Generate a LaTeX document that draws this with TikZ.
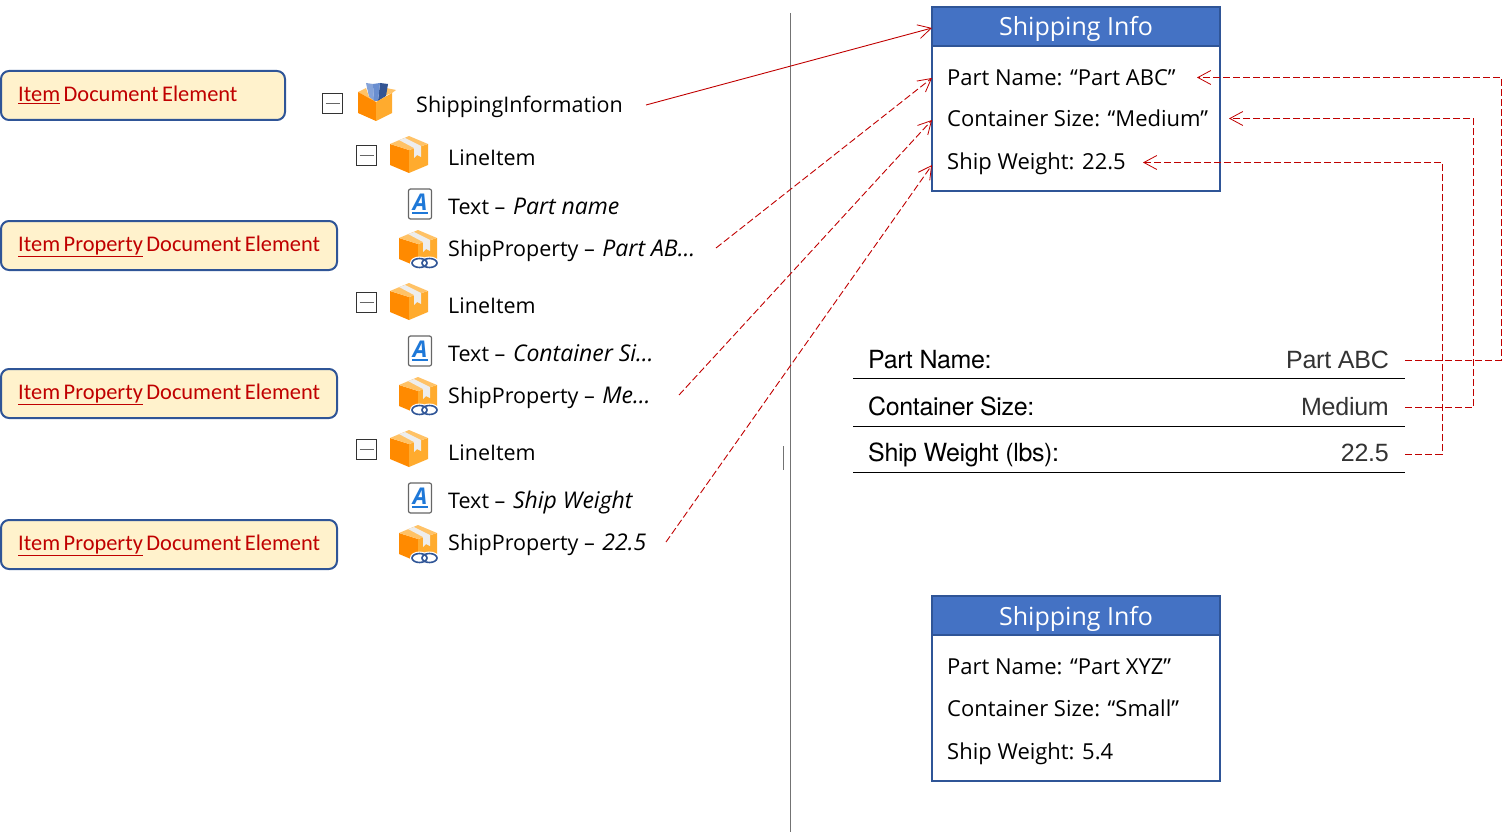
\documentclass[tikz,border=0pt]{standalone}
\usepackage{fontspec}
\setmainfont{Open Sans}
\newfontfamily\lblfont[WordSpace=0.7]{Carlito}
\newfontfamily\tblfont[LetterSpace=-1.5]{TeX Gyre Heros}
\newfontfamily\valfont[LetterSpace=-1]{Liberation Sans}
\usetikzlibrary{positioning,arrows.meta}
\definecolor{boxblue}{HTML}{4472C4}
\definecolor{edgeblue}{HTML}{2F5597}
\definecolor{linkred}{HTML}{C00000}
\definecolor{notefill}{HTML}{FFF2CC}
\definecolor{pkgdark}{HTML}{FF8A00}
\definecolor{pkglight}{HTML}{FFAB2E}
\definecolor{pkgtop}{HTML}{FFC266}
\definecolor{docblue}{HTML}{1E78D8}
\newcommand{\treeit}[1]{\hspace{2pt}{\fontsize{23}{24}\selectfont\itshape #1}}
\tikzset{
  note/.style={draw=edgeblue,line width=2pt,fill=notefill,rounded corners=8pt,minimum height=49pt,anchor=west,inner sep=0pt},
  notetext/.style={font=\lblfont\fontsize{22.4}{24}\selectfont,text=linkred,anchor=base west,inner sep=0pt},
  treetext/.style={font=\fontsize{21.5}{24}\selectfont,anchor=base west,inner sep=0pt},
  toggle/.style={draw=black!80,line width=.9pt,minimum size=20pt,inner sep=0pt},
  header/.style={draw=edgeblue,line width=2pt,fill=boxblue,text=white,minimum width=288pt,minimum height=39pt,inner sep=0pt,text height=22pt,text depth=3pt,font=\fontsize{25}{28}\selectfont},
  infobox/.style={draw=edgeblue,line width=2pt,minimum width=288pt,anchor=north west,inner sep=0pt},
  rowtext/.style={font=\fontsize{22}{24}\selectfont,anchor=base west,inner sep=0pt},
  tbltext/.style={font=\tblfont\fontsize{25}{28}\selectfont,anchor=base west,inner sep=0pt},
  tblval/.style={font=\valfont\fontsize{25}{28}\selectfont,text=black!80,anchor=base east,inner sep=0pt},
  link/.style={draw=linkred,line width=.9pt},
  dashlink/.style={link,dash pattern=on 7pt off 3pt},
  barb/.style={-{Straight Barb[length=13pt,width=14pt,line width=.8pt]}},
  pics/pkg/.style={code={
    \fill[pkgdark] (-19,11) -- (0,5) -- (0,-18) -- (-19,-10) -- cycle;
    \fill[pkglight] (0,5) -- (19,11) -- (19,-10) -- (0,-18) -- cycle;
    \fill[pkgtop] (-19,11) -- (0,5) -- (19,11) -- (0,19) -- cycle;
    \fill[black!7] (-10,15) -- (-4,17) -- (12,9) -- (12,-2) -- (8,0) -- (5,-3) -- (5,7) -- cycle;
  }},
  pics/openpkg/.style={code={
    \fill[pkgtop] (16,8) -- (20,11) -- (10,13) -- (8,5) -- cycle;
    \fill[boxblue!65] (-10,18) -- (-3,17) -- (-2,0) -- (-7,4) -- cycle;
    \fill[boxblue!75!black] (4,18) -- (12,17) -- (10,5) -- (2,0) -- cycle;
    \fill[boxblue!80] (-3,17) -- (4,18) -- (2,0) -- (-2,0) -- cycle;
    \fill[pkgtop] (-18,9) -- (-10,13) -- (-7,4) -- (0,-1) -- cycle;
    \fill[pkgdark] (-18,9) -- (0,-1) -- (0,-20) -- (-18,-12) -- cycle;
    \fill[pkglight] (0,-1) -- (16,8) -- (16,-12) -- (0,-20) -- cycle;
  }},
  pics/linkpkg/.style={code={
    \pic at (0,0) {pkg};
    \fill[white] (1.5,-14) ellipse (9.5pt and 6.5pt);
    \fill[white] (11.5,-14) ellipse (9.5pt and 6.5pt);
    \draw[edgeblue,line width=1.6pt] (1.5,-14) ellipse (7.5pt and 4.5pt);
    \draw[edgeblue,line width=1.6pt] (11.5,-14) ellipse (7.5pt and 4.5pt);
  }},
  pics/textdoc/.style={code={
    \draw[black!60,line width=1.2pt,fill=white,rounded corners=2pt] (-11.5,-15) rectangle (11.5,15);
    \node[font=\fontsize{23}{23}\selectfont\itshape\bfseries,text=docblue,inner sep=0pt] at (0,2) {A};
    \draw[docblue,line width=1.2pt] (-8,-9) -- (8,-9);
  }}
}
\begin{document}
\begin{tikzpicture}[x=1pt,y=1pt]
\useasboundingbox (0,0) rectangle (1502,-832);
% labels on the left
\node[note,minimum width=284pt] (n1) at (0,-95.5) {};
\node[notetext] (n1t) at (18,-101.5) {\underline{Item} Document Element};
\node[note,minimum width=336pt] (n2) at (0,-245.5) {};
\node[notetext] (n2t) at (18,-251) {\underline{Item Property} Document Element};
\node[note,minimum width=336pt] (n3) at (0,-393.5) {};
\node[notetext] (n3t) at (18,-399) {\underline{Item Property} Document Element};
\node[note,minimum width=336pt] (n4) at (0,-544.5) {};
\node[notetext] (n4t) at (18,-550) {\underline{Item Property} Document Element};
% tree
\node[toggle,label={[inner sep=0pt]center:\tikz\draw[black!60,line width=.8pt] (0,0) -- (14pt,0);}] (t0) at (332.5,-103) {};
\pic at (376,-101) {openpkg};
\node[treetext] (root) at (416,-112.5) {ShippingInformation};
\foreach \y/\nm in {155/t1,302/t2,449/t3} {
  \node[toggle,label={[inner sep=0pt]center:\tikz\draw[black!60,line width=.8pt] (0,0) -- (14pt,0);}] (\nm) at (366.5,-\y) {};
  \pic at (409,-\y) {pkg};
}
\node[treetext] (item1) at (448,-165) {LineItem};
\node[treetext] (item2) at (448,-313) {LineItem};
\node[treetext] (item3) at (448,-460) {LineItem};
\pic at (420,-204) {textdoc};
\pic at (420,-351) {textdoc};
\pic at (420,-498) {textdoc};
\node[treetext] (text1) at (448,-214) {Text – \treeit{Part name}};
\node[treetext] (text2) at (448,-361) {Text – \treeit{Container Si…}};
\node[treetext] (text3) at (448,-508) {Text – \treeit{Ship Weight}};
\pic at (418,-249) {linkpkg};
\pic at (418,-396) {linkpkg};
\pic at (418,-544) {linkpkg};
\node[treetext] (prop1) at (448,-256) {ShipProperty – \treeit{Part AB…}};
\node[treetext] (prop2) at (448,-403) {ShipProperty – \treeit{Me…}};
\node[treetext] (prop3) at (448,-550) {ShipProperty – \treeit{22.5}};
% divider
\coordinate (dtop) at (790.5,-13);
\coordinate (dbot) at (790.5,-832);
\coordinate (ttop) at (783.5,-446);
\coordinate (tbot) at (783.5,-470);
\draw[black!55,line width=.8pt] (dtop) -- (dbot);
\draw[black!55,line width=.8pt] (ttop) -- (tbot);
% first box
\node[infobox,minimum height=184pt] (box1) at (931,-6) {};
\node[header,anchor=north west] (head1) at (931,-6) {Shipping Info};
\node[rowtext] (name1) at (947,-85.5) {Part Name: “Part ABC”};
\node[rowtext] (size1) at (947,-126.5) {Container Size: “Medium”};
\node[rowtext] (wght1) at (947,-170) {Ship Weight: 22.5};
% form
\foreach \y/\nm in {378/l1,426/l2,472/l3} {
  \coordinate (\nm a) at (853,-\y);
  \coordinate (\nm b) at (1405,-\y);
  \draw[black,line width=1pt] (\nm a) -- (\nm b);
}
\node[tbltext] (fa) at (868,-368) {Part Name:};
\node[tbltext] (fb) at (868,-415.5) {Container Size:};
\node[tbltext] (fc) at (868,-461.5) {Ship Weight (lbs):};
\node[tblval] (va) at (1389,-368) {Part ABC};
\node[tblval] (vb) at (1389,-415.5) {Medium};
\node[tblval] (vc) at (1389,-461.5) {22.5};
% second box
\node[infobox,minimum height=185pt] (box2) at (931,-595) {};
\node[header,anchor=north west] (head2) at (931,-595) {Shipping Info};
\node[rowtext] (name2) at (947,-674) {Part Name: “Part XYZ”};
\node[rowtext] (size2) at (947,-716) {Container Size: “Small”};
\node[rowtext] (wght2) at (947,-759) {Ship Weight: 5.4};
% links tree to box
\coordinate (s0) at (646,-105);
\coordinate (s1) at (716,-248);
\coordinate (s2) at (679,-395);
\coordinate (s3) at (666,-542);
\coordinate (e0) at (932,-28);
\coordinate (e1) at (932,-78);
\coordinate (e2) at (932,-120);
\coordinate (e3) at (932,-165);
\draw[link,barb] (s0) -- (e0);
\draw[dashlink,barb] (s1) -- (e1);
\draw[dashlink,barb] (s2) -- (e2);
\draw[dashlink,barb] (s3) -- (e3);
% links form to box
\coordinate (fa1) at (1405,-360);
\coordinate (fb1) at (1405,-407.5);
\coordinate (fc1) at (1405,-454);
\coordinate (ga) at (1197,-77.5);
\coordinate (gb) at (1229,-118.5);
\coordinate (gc) at (1143,-162.5);
\draw[dashlink,barb] (fa1) -- (1501,-360) -- (1501,-77.5) -- (ga);
\draw[dashlink,barb] (fb1) -- (1473,-407.5) -- (1473,-118.5) -- (gb);
\draw[dashlink,barb] (fc1) -- (1442,-454) -- (1442,-162.5) -- (gc);
\end{tikzpicture}
\end{document}
